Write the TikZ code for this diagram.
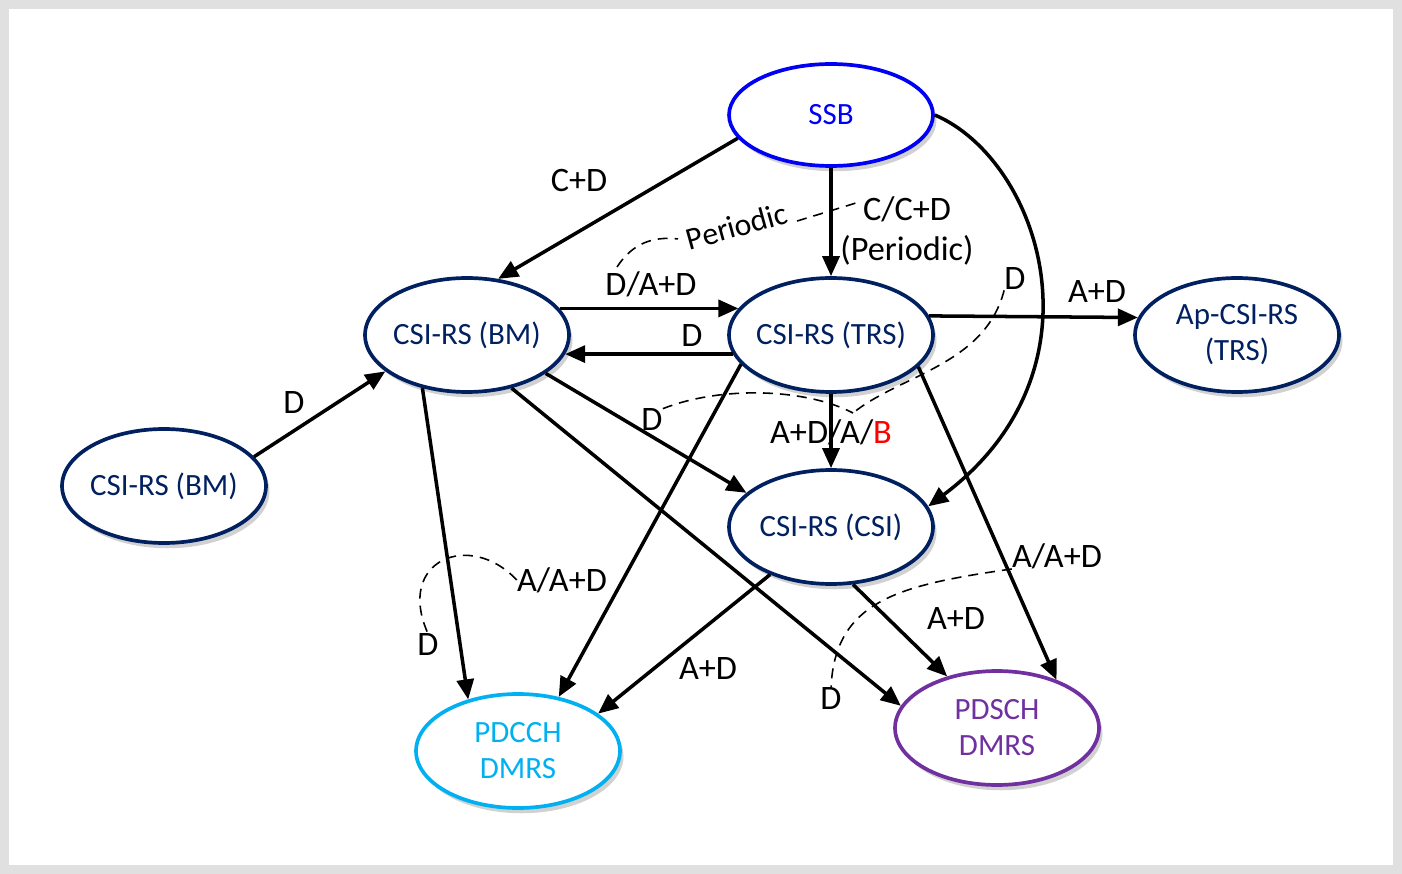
\documentclass[tikz,border=0pt]{standalone}
\usepackage{fontspec}
\setmainfont{Carlito}
\usetikzlibrary{arrows.meta,shapes.geometric,shadows}
\definecolor{navy}{HTML}{002060}
\definecolor{ssbblue}{HTML}{0000F5}
\definecolor{dmrscyan}{HTML}{00B0F0}
\definecolor{dmrspurple}{HTML}{7030A0}
\definecolor{framegray}{HTML}{E0E0E0}

\begin{document}
\begin{tikzpicture}[x=0.02cm, y=-0.02cm,
    sig/.style={ellipse, draw=navy, text=navy, line width=2.1pt, fill=white,
      minimum width=4.08cm, minimum height=2.28cm, inner xsep=-2pt, inner ysep=0pt,
      align=center, font=\fontsize{17.6}{20.5}\selectfont,
      drop shadow={shadow xshift=2pt, shadow yshift=-3pt, opacity=0.18, fill=black}},
    lbl/.style={inner sep=0pt, font=\fontsize{19.5}{23.2}\selectfont, align=center},
    link/.style={line width=2pt, -{Triangle[length=0.4cm,width=0.34cm]}},
    note/.style={line width=0.9pt, dash pattern=on 0.2cm off 0.14cm}]
  % frame
  \fill[framegray] (0,0) rectangle (1402,874);
  \fill[white] (9,9) rectangle (1393,865);
  % reference signals
  \node[sig, draw=ssbblue, text=ssbblue, minimum height=2.04cm] (ssb) at (831,115) {SSB};
  \node[sig] (bmu) at (467,335) {CSI-RS (BM)};
  \node[sig] (trs) at (831,335) {CSI-RS (TRS)};
  \node[sig] (aptrs) at (1237,335) {Ap-CSI-RS\\(TRS)};
  \node[sig] (bml) at (164,486) {CSI-RS (BM)};
  \node[sig] (csi) at (831,527) {CSI-RS (CSI)};
  \node[sig, draw=dmrscyan, text=dmrscyan] (pdcch) at (518,751) {PDCCH\\DMRS};
  \node[sig, draw=dmrspurple, text=dmrspurple] (pdsch) at (997,728) {PDSCH\\DMRS};
  % QCL relations
  \draw[link] (ssb.194) -- (bmu.61);
  \draw[link] (ssb.south) -- (trs.north);
  \draw[link] (ssb.east) .. controls (1040,160) and (1110,370) .. (csi.12);
  \draw[link] (bmu.16) -- (trs.164);
  \draw[link] (trs.191) -- (bmu.349);
  \draw[link] (trs.11) -- (aptrs.170);
  \draw[link] (bml.18) -- (bmu.204);
  \draw[link] (bmu.334) -- (csi.158);
  \draw[link] (trs.south) -- (csi.north);
  \draw[link] (bmu.230) -- (pdcch.134);
  \draw[link] (trs.198) -- (pdcch.53);
  \draw[link] (csi.218) -- (pdcch.25);
  \draw[link] (bmu.310) -- (pdsch.167);
  \draw[link] (csi.291) -- (pdsch.134);
  \draw[link] (trs.340) -- (pdsch.39);
  % labels
  \node[lbl] (cd) at (579,181) {C+D};
  \node[lbl] (ccd) at (907,231) {C/C+D\\(Periodic)};
  \node[lbl, rotate=15.5, font=\fontsize{18}{20}\selectfont] (per) at (737,226) {Periodic};
  \node[lbl] (dad) at (651,284) {D/A+D};
  \node[lbl] (dback) at (692,336) {D};
  \node[lbl] (apd) at (1097,292) {A+D};
  \node[lbl] (dcurve) at (1015,279) {D};
  \node[lbl] (dleft) at (294,403) {D};
  \node[lbl] (dcsi) at (652,420) {D};
  \node[lbl] (adab) at (831,432) {A+D/A/\textcolor{red}{B}};
  \node[lbl] (aad1) at (562,580) {A/A+D};
  \node[lbl] (dpdcch) at (428,645) {D};
  \node[lbl] (ad1) at (708,669) {A+D};
  \node[lbl] (ad2) at (956,619) {A+D};
  \node[lbl] (aad2) at (1057,556) {A/A+D};
  \node[lbl] (dpdsch) at (831,699) {D};
  % dashed notes
  \coordinate (pstart) at (617,267);
  \coordinate (pend) at (856,203);
  \coordinate (tick) at (853,413);
  \draw[note, shorten >=5pt] (pstart) .. controls (632,244) and (652,236) .. (per.west);
  \draw[note, shorten <=4pt] (per.south east) -- (pend);
  \draw[note] (dcsi.north east) .. controls (720,386) and (805,388) .. (tick);
  \draw[note] (dcurve.south west) .. controls (985,365) and (900,375) .. (tick);
  \draw[note] (aad1.west) .. controls (470,530) and (395,560) .. (dpdcch.north);
  \draw[note] (aad2.south west) .. controls (900,585) and (835,600) .. (dpdsch.north);
\end{tikzpicture}
\end{document}
